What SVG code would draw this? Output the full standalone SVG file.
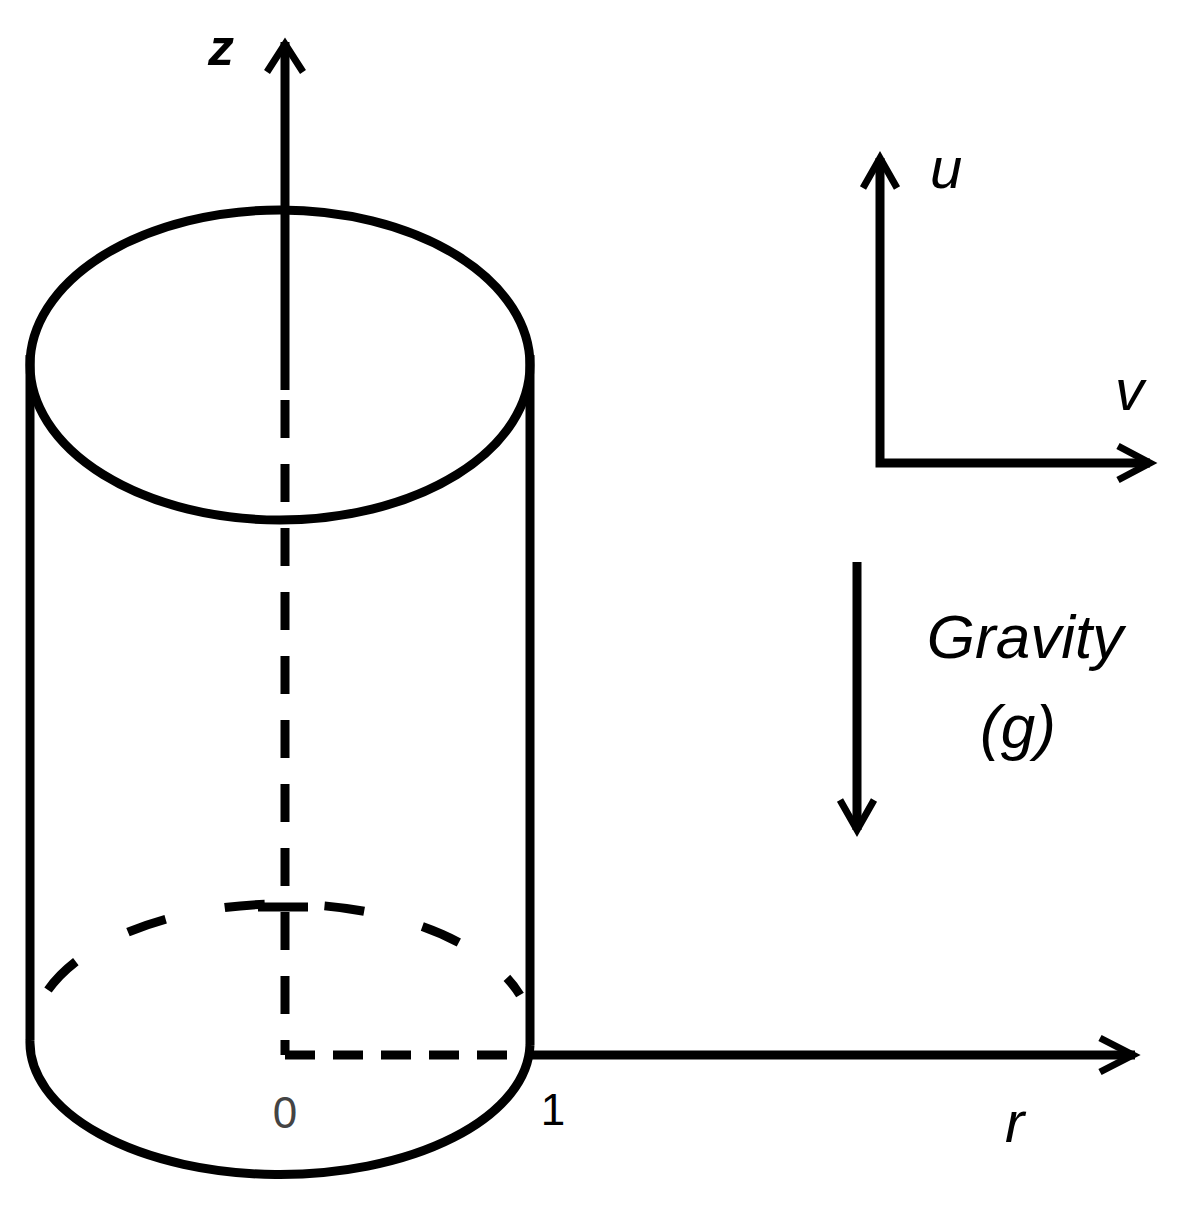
<svg xmlns="http://www.w3.org/2000/svg" width="1182" height="1208" viewBox="0 0 1182 1208">
<style>
.s{fill:none;stroke:#000;stroke-width:9}
.h{fill:none;stroke:#000;stroke-width:7}
.d{fill:none;stroke:#000;stroke-width:9}
.t{font-family:"Liberation Sans",Arial,sans-serif;font-style:italic;fill:#000}
</style>
<g id="cylinder">
<ellipse class="s" cx="280" cy="365" rx="250" ry="155"/>
<line class="s" x1="30" y1="355" x2="30" y2="1040"/>
<line class="s" x1="530" y1="355" x2="530" y2="1045"/>
<path class="s" d="M30,1040 A250,132 0 0 0 530,1045"/>
<path class="d" style="stroke-dasharray:40,60" d="M48,990 A250,132 0 0 1 520,995"/>
</g>
<g id="connectors">
<line class="s" x1="285" y1="390" x2="285" y2="42"/>
<polyline class="h" points="267,72 285,44 303,72"/>
<line class="d" style="stroke-dasharray:38,26" x1="285" y1="400" x2="285" y2="1055"/>
<line class="s" x1="258" y1="907" x2="308" y2="907"/>
<line class="d" style="stroke-dasharray:30,18" x1="285" y1="1055" x2="530" y2="1055"/>
<line class="s" x1="530" y1="1055" x2="1135" y2="1055"/>
<polyline class="h" points="1100,1038 1133,1055 1100,1072"/>
<polyline class="s" points="880,158 880,463 1150,463"/>
<polyline class="h" points="863,188 880,158 897,188"/>
<polyline class="h" points="1118,446 1150,463 1118,480"/>
<line class="s" x1="857" y1="562" x2="857" y2="830"/>
<polyline class="h" points="840,800 857,830 874,800"/>
</g>
<g id="labels">
<text class="t" x="208" y="65" font-size="52" font-weight="bold">z</text>
<text class="t" x="930" y="188" font-size="58">u</text>
<text class="t" x="1115" y="410" font-size="58">v</text>
<text class="t" x="1025" y="658" font-size="62" text-anchor="middle">Gravity</text>
<text class="t" x="1018" y="748" font-size="62" text-anchor="middle">(g)</text>
<text x="285" y="1128" font-size="44" text-anchor="middle" font-family="Liberation Sans,sans-serif" fill="#444">0</text>
<text x="553" y="1125" font-size="44" text-anchor="middle" font-family="Liberation Sans,sans-serif">1</text>
<text class="t" x="1005" y="1142" font-size="58">r</text>
</g>
</svg>
